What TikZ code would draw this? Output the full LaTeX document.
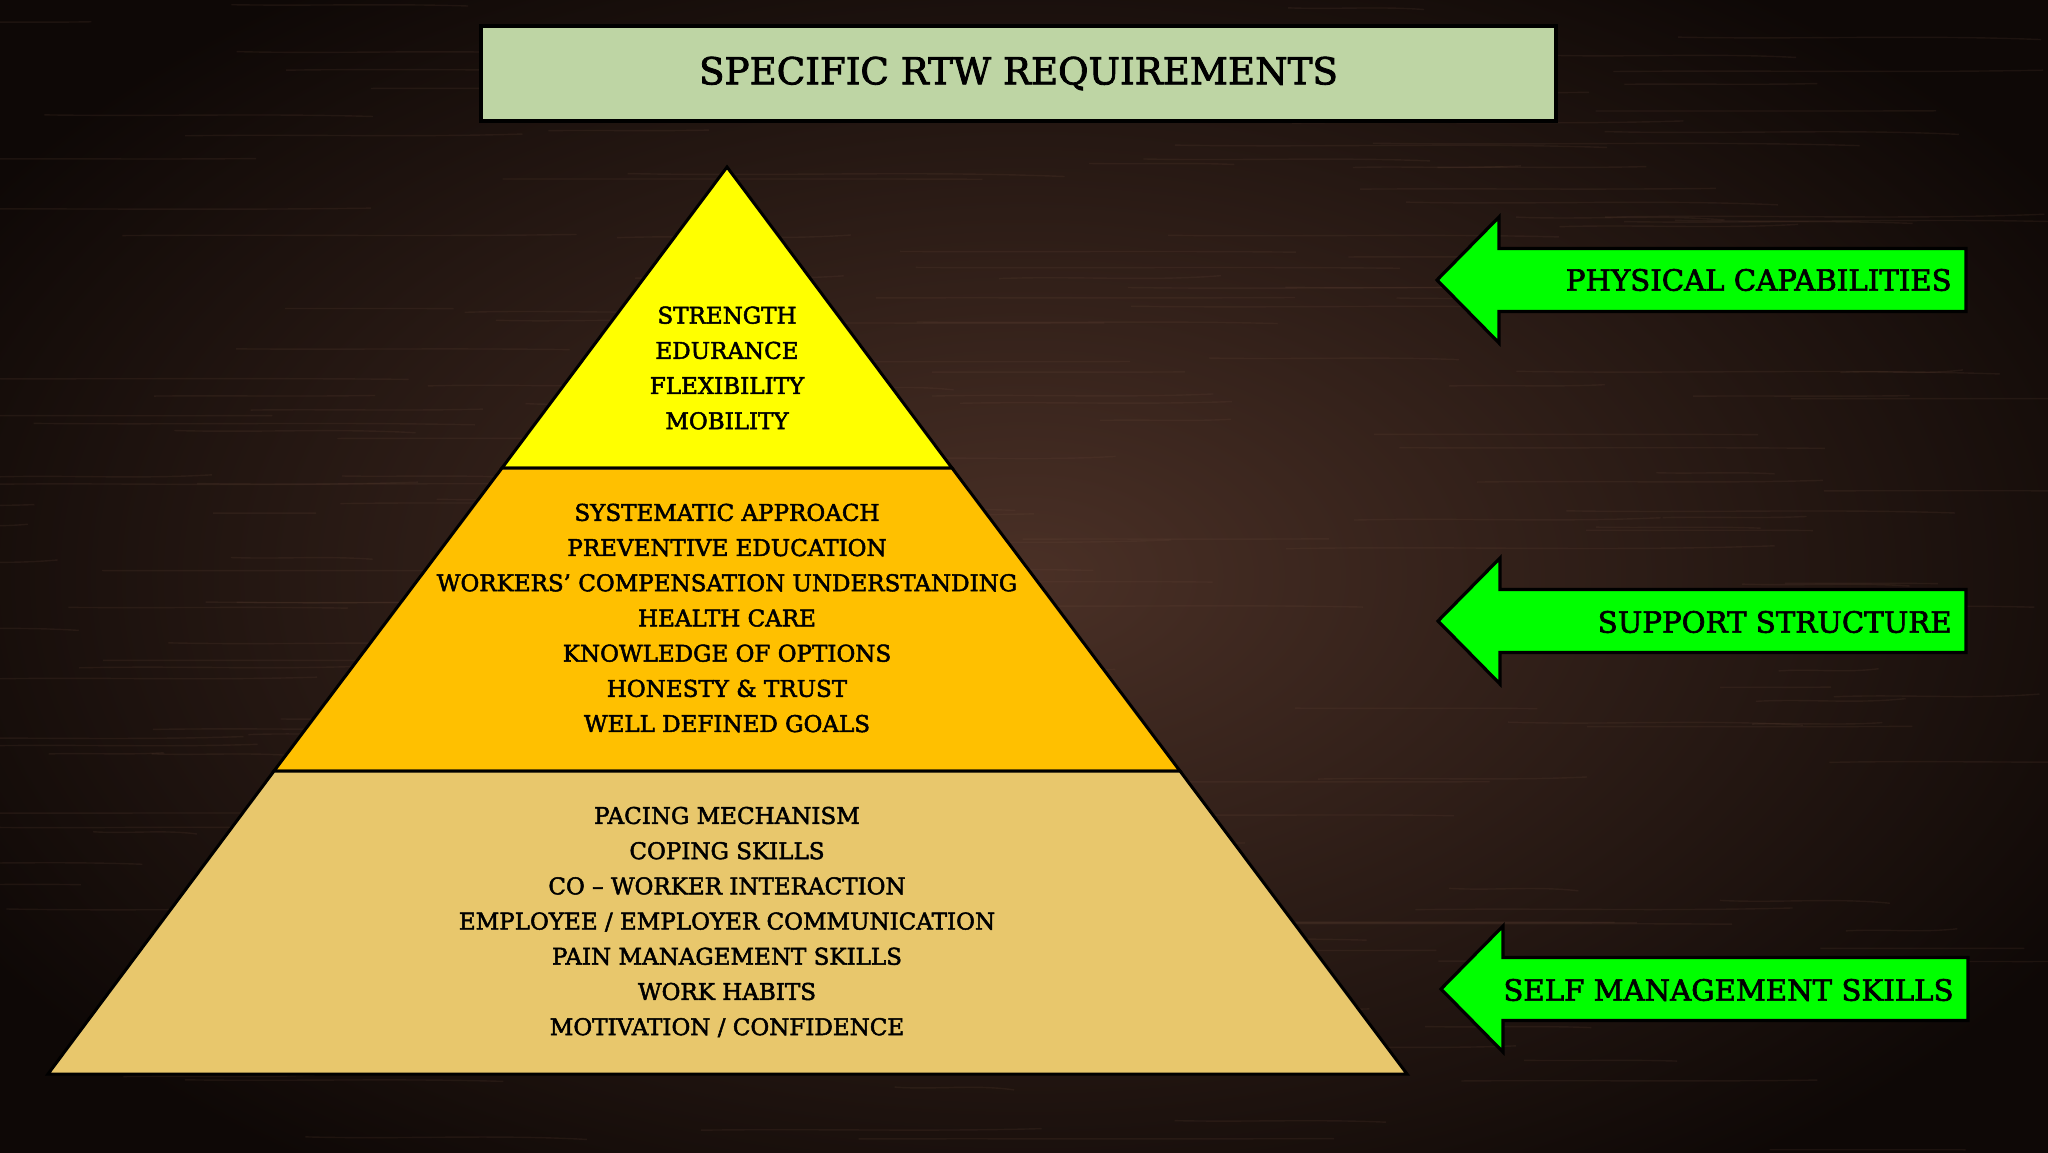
\documentclass[tikz,border=0pt]{standalone}
\usepackage{fontspec}
\setmainfont{DejaVu Serif}[FakeBold=2.2]
\definecolor{wooddark}{RGB}{14,8,6}
\definecolor{woodmid}{RGB}{74,48,38}
\definecolor{streak}{RGB}{110,78,62}
\definecolor{titlegreen}{RGB}{190,213,164}
\definecolor{topyellow}{RGB}{255,255,0}
\definecolor{midorange}{RGB}{255,192,0}
\definecolor{basetan}{RGB}{232,199,108}
\definecolor{arrowgreen}{RGB}{0,255,0}
\tikzset{
  layer/.style={draw=black, line width=1.5pt, line join=miter},
  layertext/.style={align=center, text=black, font=\fontsize{11.5}{17.6}\selectfont},
  gshape/.style={draw=black, fill=arrowgreen, line width=1.6pt, line join=miter},
  gtext/.style={anchor=east, text=black, font=\fontsize{14.6}{17}\selectfont, inner sep=0pt},
  titlebox/.style={draw=black, fill=titlegreen, line width=1.6pt}
}
\newcommand{\gArrow}[4]{% name, center y, tip x, right x
  \coordinate (#1tip) at (#3,#2);
  \draw[gshape] (#1tip) -- ++(62,-63) -- ++(0,31.5) -- (#4,#2-31.5) -- (#4,#2+31.5)
     -- (#3+62,#2+31.5) -- (#3+62,#2+63) -- cycle;
}
\begin{document}
\begin{tikzpicture}[x=0.5pt,y=-0.5pt]
\useasboundingbox (0,0) rectangle (2048,1152);
\shade[inner color=woodmid, outer color=wooddark] (-200,-150) rectangle (2248,1302);
\pgfmathsetseed{7}
\foreach \i in {1,...,220}{
  \pgfmathsetmacro\yy{rnd*1152}
  \pgfmathsetmacro\xx{rnd*2000-150}
  \pgfmathsetmacro\ll{100+rnd*400}
  \pgfmathsetmacro\ww{6*rnd-3}
  \draw[streak, opacity=0.16, line width=0.7pt] (\xx,\yy) .. controls (\xx+\ll/3,\yy+\ww) and (\xx+2*\ll/3,\yy-\ww) .. (\xx+\ll,\yy+\ww);
}
% title
\node[titlebox, minimum width=537.5pt, minimum height=47.5pt, inner sep=0pt] (title) at (1018.5,73.5) {};
\node[font=\fontsize{18.6}{22}\selectfont, text=black] (titletext) at (title.center) {SPECIFIC RTW REQUIREMENTS};
% pyramid
\coordinate (apex) at (727,167);
\coordinate (L1) at (502,468);
\coordinate (R1) at (952,468);
\coordinate (L2) at (274,771);
\coordinate (R2) at (1180,771);
\coordinate (BL) at (48,1074);
\coordinate (BR) at (1407,1074);
\filldraw[layer, fill=topyellow] (apex) -- (R1) -- (L1) -- cycle;
\filldraw[layer, fill=midorange] (L1) -- (R1) -- (R2) -- (L2) -- cycle;
\filldraw[layer, fill=basetan] (L2) -- (R2) -- (BR) -- (BL) -- cycle;
\node[layertext] (toptext) at (727,368) {STRENGTH\\EDURANCE\\FLEXIBILITY\\MOBILITY};
\node[layertext] (midtext) at (727,618) {SYSTEMATIC APPROACH\\PREVENTIVE EDUCATION\\WORKERS’ COMPENSATION UNDERSTANDING\\HEALTH CARE\\KNOWLEDGE OF OPTIONS\\HONESTY \& TRUST\\WELL DEFINED GOALS};
\node[layertext] (bottext) at (727,922) {PACING MECHANISM\\COPING SKILLS\\CO – WORKER INTERACTION\\EMPLOYEE / EMPLOYER COMMUNICATION\\PAIN MANAGEMENT SKILLS\\WORK HABITS\\MOTIVATION / CONFIDENCE};
% arrows
\gArrow{phys}{280}{1437}{1966}
\gArrow{supp}{621}{1438}{1966}
\gArrow{self}{989}{1441}{1968}
\node[gtext] (physlabel) at (1952,280) {PHYSICAL CAPABILITIES};
\node[gtext] (supplabel) at (1952,622) {SUPPORT STRUCTURE};
\node[gtext] (selflabel) at (1954,990) {SELF MANAGEMENT SKILLS};
\end{tikzpicture}
\end{document}
